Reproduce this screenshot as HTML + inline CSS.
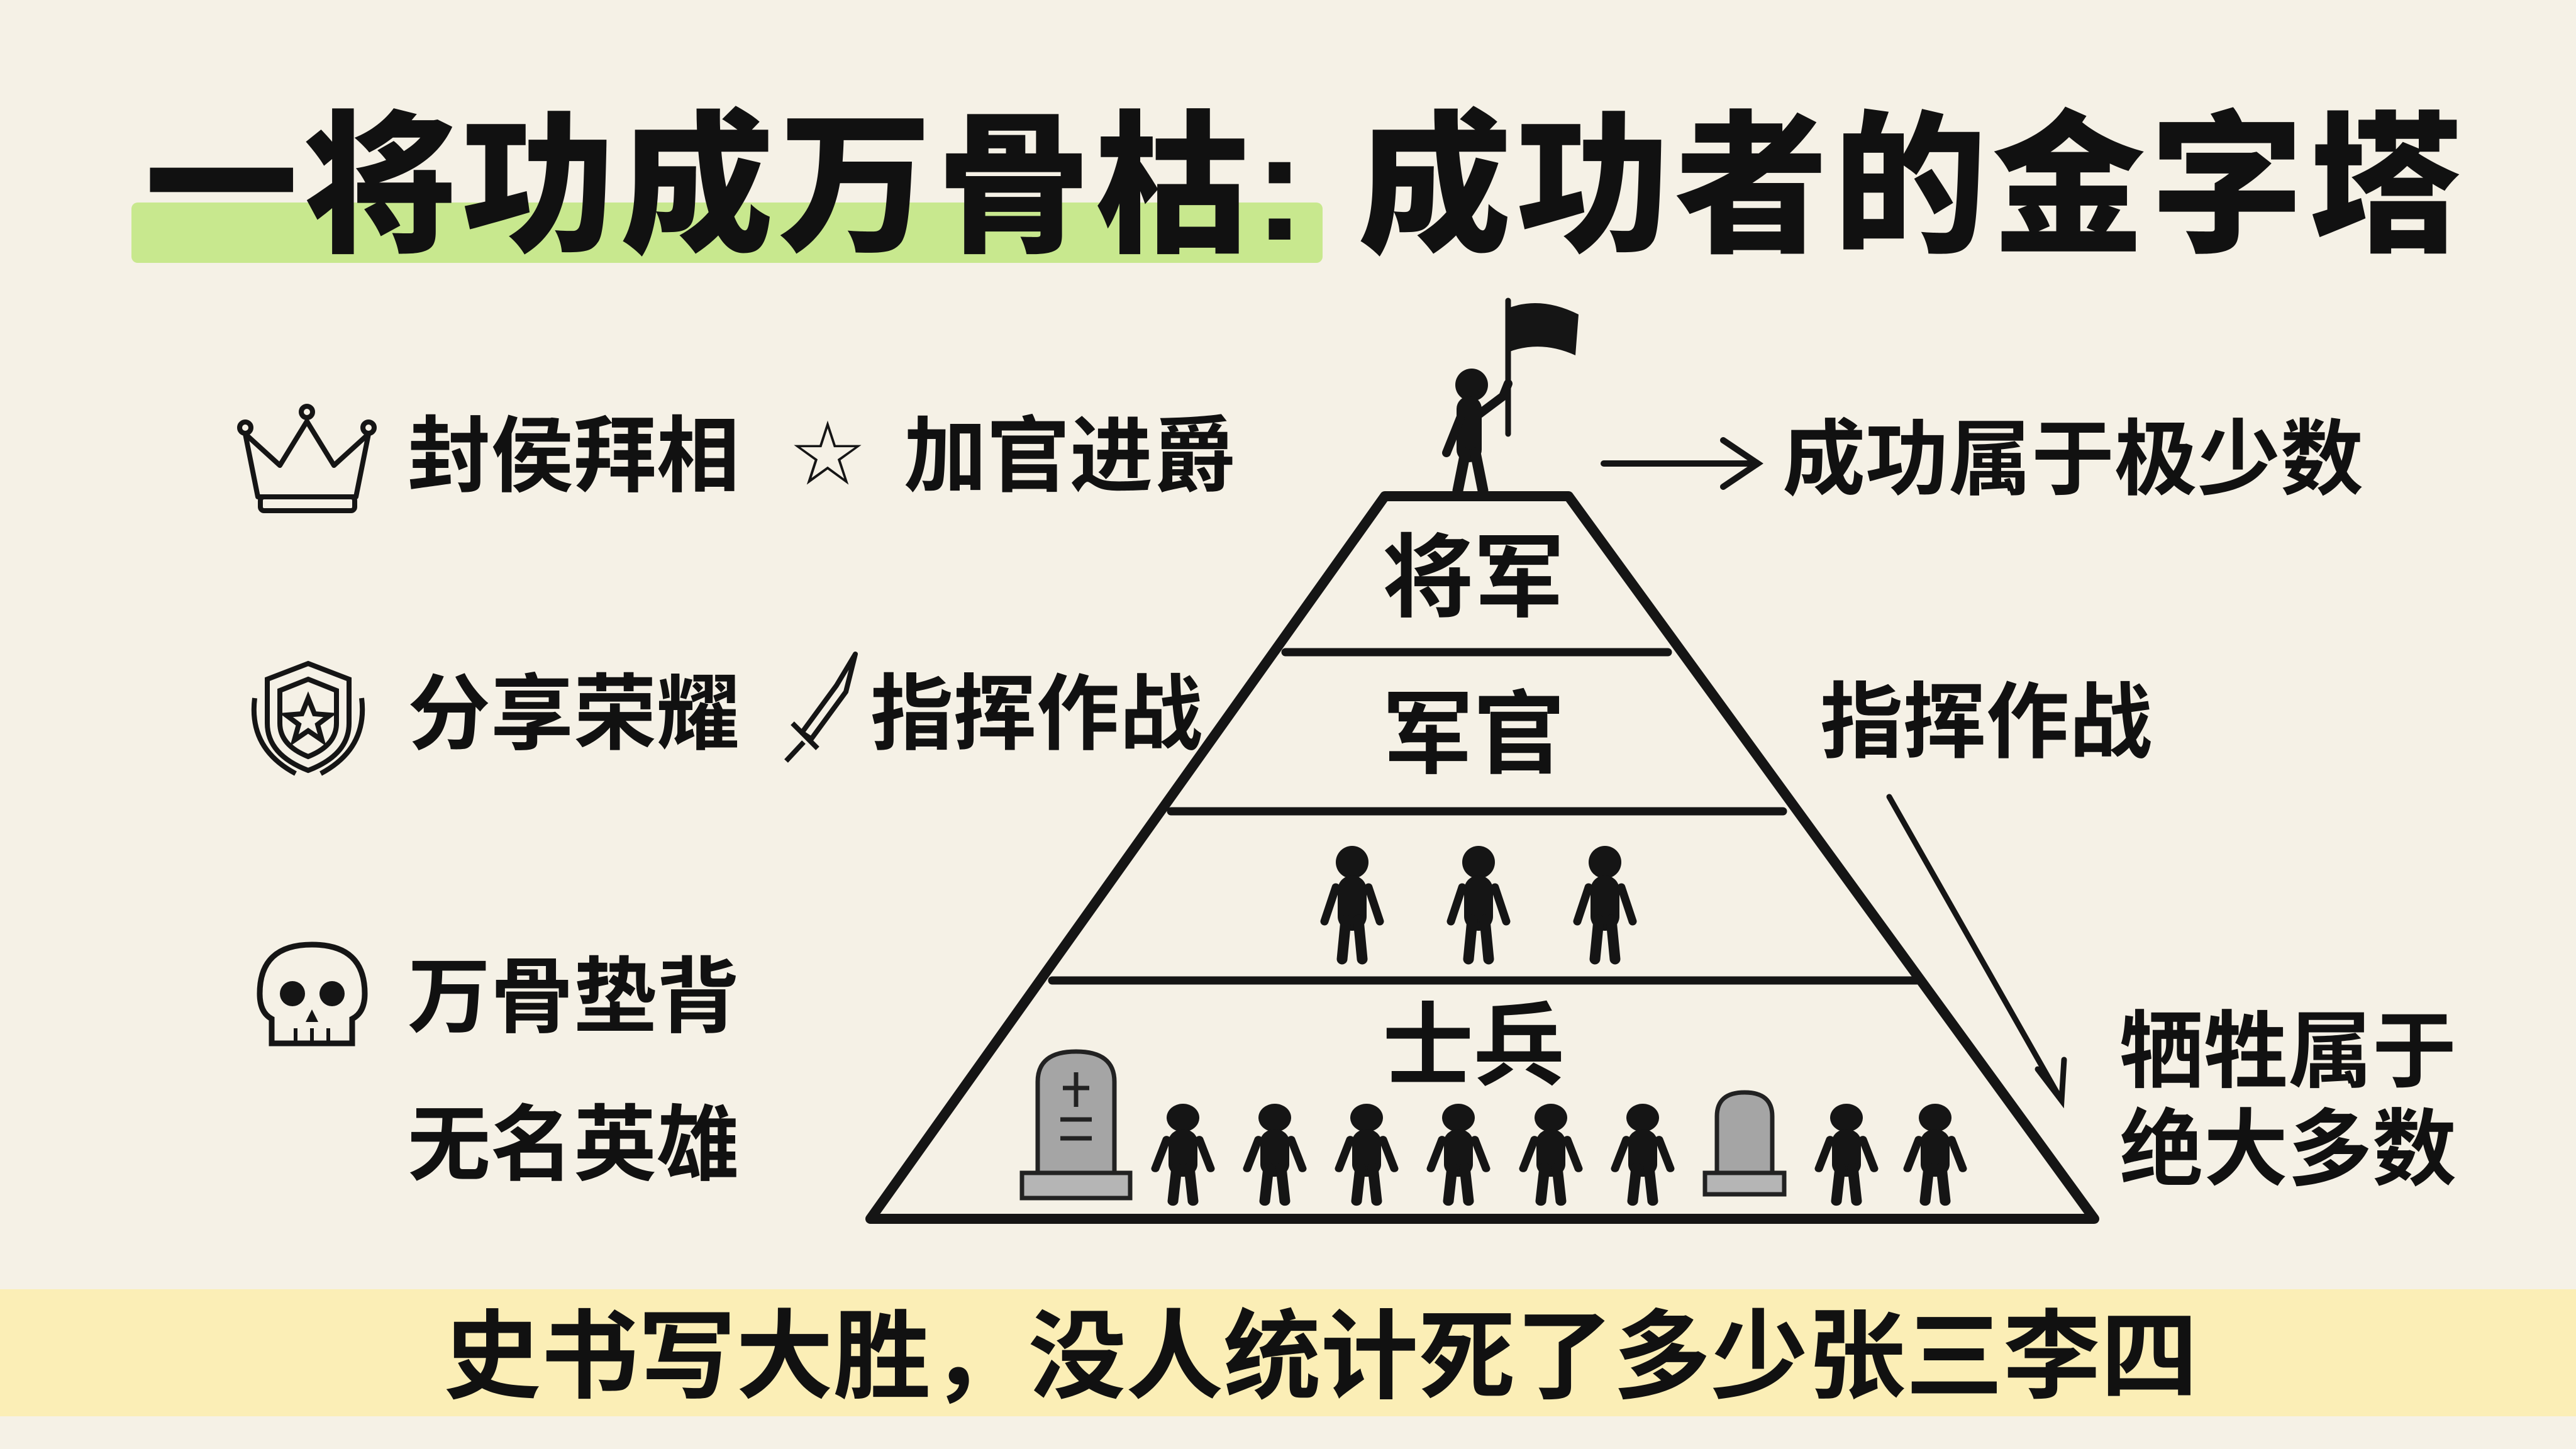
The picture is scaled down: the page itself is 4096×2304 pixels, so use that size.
<!DOCTYPE html>
<html><head><meta charset="utf-8"><style>
html,body{margin:0;padding:0}
body{width:4096px;height:2304px;background:#f5f1e6;position:relative;overflow:hidden;font-family:"Liberation Sans","Noto Sans CJK SC",sans-serif;color:#111}
.t{position:absolute;white-space:nowrap;font-weight:700;line-height:1}
</style></head><body>
<div style="position:absolute;left:209px;top:322px;width:1894px;height:96px;background:#c8e88e;border-radius:10px"></div>
<div class="t" style="left:230px;top:175px;font-size:244px;font-weight:900;letter-spacing:8px">一将功成万骨枯: 成功者的金字塔</div>

<div style="position:absolute;left:0;top:2050px;width:4096px;height:202px;background:#fbeeb6"></div>
<div class="t" style="left:705px;top:2080px;font-size:155px">史书写大胜，没人统计死了多少张三李四</div>

<svg width="4096" height="2304" style="position:absolute;left:0;top:0" xmlns="http://www.w3.org/2000/svg">
<g stroke="#151515" stroke-linecap="round" fill="none">
<polyline points="1384,1938 2202,789 2494,789 3330,1938 1384,1938" stroke-width="16" stroke-linejoin="round"/>
<line x1="2044" y1="1037" x2="2652" y2="1037" stroke-width="13"/>
<line x1="1862" y1="1290" x2="2835" y2="1290" stroke-width="13"/>
<line x1="1673" y1="1559" x2="3053" y2="1559" stroke-width="13"/>
<line x1="2550" y1="737" x2="2790" y2="737" stroke-width="10"/>
<polyline points="2740,700 2795,737 2740,774" stroke-width="10"/>
<line x1="3004" y1="1267" x2="3275" y2="1745" stroke-width="9"/>
<polyline points="3240,1700 3278,1750 3282,1685" stroke-width="9"/>
<line x1="2398" y1="478" x2="2398" y2="690" stroke-width="9"/>
</g>
<path d="M2398,490 Q2450,470 2510,500 L2505,565 Q2450,540 2398,560 Z" fill="#151515"/>
<circle cx="2340" cy="612" r="26" fill="#151515"/>
<g stroke="#151515" stroke-linecap="round" fill="none">
<line x1="2336" y1="650" x2="2336" y2="715" stroke-width="40"/>
<line x1="2330" y1="720" x2="2318" y2="780" stroke-width="17"/>
<line x1="2346" y1="720" x2="2358" y2="780" stroke-width="17"/>
<polyline points="2350,660 2390,630 2398,610" stroke-width="14"/>
<line x1="2322" y1="665" x2="2300" y2="720" stroke-width="14"/>
</g>
<defs>
<g id="p">
<circle cx="0" cy="26" r="26" fill="#151515"/>
<g stroke="#151515" stroke-linecap="round" fill="none">
<line x1="0" y1="70" x2="0" y2="112" stroke-width="46"/>
<line x1="-10" y1="118" x2="-16" y2="180" stroke-width="17"/>
<line x1="10" y1="118" x2="16" y2="180" stroke-width="17"/>
<line x1="-26" y1="66" x2="-44" y2="120" stroke-width="13"/>
<line x1="26" y1="66" x2="44" y2="120" stroke-width="13"/>
</g>
</g>
</defs>
<use href="#p" x="2150" y="1345"/><use href="#p" x="2351" y="1345"/><use href="#p" x="2552" y="1345"/>
<g transform="translate(0,1755) scale(1,0.86)">
<use href="#p" x="1881" y="0"/><use href="#p" x="2027" y="0"/><use href="#p" x="2173" y="0"/><use href="#p" x="2319" y="0"/><use href="#p" x="2466" y="0"/><use href="#p" x="2612" y="0"/><use href="#p" x="2936" y="0"/><use href="#p" x="3077" y="0"/>
</g>
<path d="M1650,1870 L1650,1720 Q1650,1672 1711,1672 Q1772,1672 1772,1720 L1772,1870 Z" fill="#a5a5a5" stroke="#222" stroke-width="7"/>
<rect x="1625" y="1865" width="172" height="40" fill="#b5b5b5" stroke="#222" stroke-width="7"/>
<g stroke="#222" stroke-width="7"><line x1="1711" y1="1705" x2="1711" y2="1760"/><line x1="1690" y1="1730" x2="1732" y2="1730"/><line x1="1686" y1="1780" x2="1736" y2="1780"/><line x1="1686" y1="1810" x2="1736" y2="1810"/></g>
<path d="M2730,1870 L2730,1775 Q2730,1737 2774,1737 Q2818,1737 2818,1775 L2818,1870 Z" fill="#a5a5a5" stroke="#222" stroke-width="7"/>
<rect x="2711" y="1865" width="126" height="34" fill="#b5b5b5" stroke="#222" stroke-width="7"/>
<g stroke="#151515" stroke-width="8" fill="none" stroke-linejoin="round">
<path d="M410,790 L390,690 L445,740 L488,670 L531,740 L586,690 L566,790 Z"/>
<rect x="414" y="790" width="150" height="22" rx="6"/>
<circle cx="390" cy="680" r="9"/><circle cx="488" cy="655" r="9"/><circle cx="586" cy="680" r="9"/>
</g>
<text x="1316" y="770" font-size="140" text-anchor="middle" fill="#151515" font-family="DejaVu Sans">☆</text>
<g stroke="#151515" stroke-width="8" fill="none">
<path d="M490,1055 L555,1080 L555,1150 Q555,1200 490,1225 Q425,1200 425,1150 L425,1080 Z"/>
<path d="M490,1080 L535,1098 L535,1150 Q535,1185 490,1203 Q445,1185 445,1150 L445,1098 Z"/>
<path d="M405,1110 Q395,1190 470,1230 M575,1110 Q585,1190 510,1230"/>
<path d="M490,1110 L500,1135 L525,1137 L505,1152 L512,1177 L490,1162 L468,1177 L475,1152 L455,1137 L480,1135 Z"/>
</g>
<g stroke="#151515" stroke-width="8" fill="none" stroke-linejoin="round">
<path d="M1360,1040 L1345,1100 L1290,1175 L1275,1165 L1330,1090 Z"/>
<line x1="1260" y1="1150" x2="1300" y2="1190"/>
<line x1="1278" y1="1180" x2="1250" y2="1210"/>
</g>
<g>
<path d="M496,1502 Q580,1502 580,1580 Q580,1610 560,1620 L560,1659 L432,1659 L432,1620 Q413,1610 413,1580 Q413,1502 496,1502 Z" fill="none" stroke="#151515" stroke-width="9"/>
<circle cx="465" cy="1580" r="20" fill="#151515"/><circle cx="528" cy="1580" r="20" fill="#151515"/>
<path d="M496,1605 L486,1625 L506,1625 Z" fill="#151515"/>
<g stroke="#151515" stroke-width="6"><line x1="470" y1="1635" x2="470" y2="1659"/><line x1="496" y1="1635" x2="496" y2="1659"/><line x1="522" y1="1635" x2="522" y2="1659"/></g>
</g>
</svg>

<div class="t" style="left:648px;top:660px;font-size:132px">封侯拜相</div>
<div class="t" style="left:1437px;top:660px;font-size:132px">加官进爵</div>
<div class="t" style="left:648px;top:1070px;font-size:132px">分享荣耀</div>
<div class="t" style="left:1384px;top:1070px;font-size:132px">指挥作战</div>
<div class="t" style="left:648px;top:1520px;font-size:132px">万骨垫背</div>
<div class="t" style="left:648px;top:1755px;font-size:132px">无名英雄</div>
<div class="t" style="left:2834px;top:665px;font-size:132px">成功属于极少数</div>
<div class="t" style="left:2894px;top:1083px;font-size:132px">指挥作战</div>
<div class="t" style="left:3370px;top:1606px;font-size:134px">牺牲属于</div>
<div class="t" style="left:3370px;top:1762px;font-size:134px">绝大多数</div>
<div class="t" style="left:2198px;top:847px;font-size:145px">将军</div>
<div class="t" style="left:2198px;top:1096px;font-size:145px">军官</div>
<div class="t" style="left:2198px;top:1592px;font-size:145px">士兵</div>
</body></html>
